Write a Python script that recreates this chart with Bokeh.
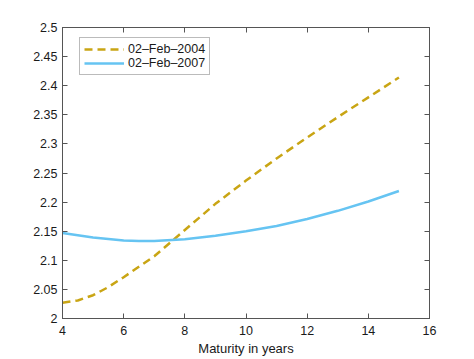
from bokeh.plotting import figure
from bokeh.models import Range1d, FixedTicker, LinearAxis, Legend, LegendItem
from bokeh.embed import file_html
from bokeh.resources import INLINE

# Data
maturity_2004 = [4, 4.5, 5, 5.5, 6, 7, 8, 9, 10, 11, 12, 13, 14, 15]
yield_2004 = [2.027, 2.031, 2.040, 2.054, 2.071, 2.107, 2.152, 2.197, 2.237, 2.275, 2.311, 2.346, 2.380, 2.414]
maturity_2007 = [4, 5, 6, 6.5, 7, 8, 9, 10, 11, 12, 13, 14, 15]
yield_2007 = [2.147, 2.139, 2.134, 2.133, 2.133, 2.136, 2.142, 2.150, 2.159, 2.171, 2.185, 2.201, 2.219]
series_names = ["02\u2013Feb\u20132004", "02\u2013Feb\u20132007"]
x_ticks = [4, 6, 8, 10, 12, 14, 16]
y_ticks = [2.0, 2.05, 2.1, 2.15, 2.2, 2.25, 2.3, 2.35, 2.4, 2.45, 2.5]
y_tick_labels = ["2", "2.05", "2.1", "2.15", "2.2", "2.25", "2.3", "2.35", "2.4", "2.45", "2.5"]
x_label = "Maturity in years"

FONT = "Liberation Sans"
AX = "#555555"

p = figure(frame_width=367, frame_height=291, output_backend="svg", toolbar_location=None,
           x_range=Range1d(4, 16), y_range=Range1d(2, 2.5),
           min_border_left=62, min_border_top=27, min_border_right=40, min_border_bottom=38,
           x_axis_label=x_label)
p.xgrid.visible = False
p.ygrid.visible = False
p.outline_line_color = AX
p.outline_line_width = 1
p.background_fill_color = "white"
p.border_fill_color = "white"

l1 = p.line(maturity_2004, yield_2004, line_color="#C9A514", line_width=2.5, line_dash="8 5")
l2 = p.line(maturity_2007, yield_2007, line_color="#66C4F2", line_width=2.5)

def style(ax, labels=True):
    ax.major_tick_in = 5
    ax.major_tick_out = 0
    ax.minor_tick_line_color = None
    ax.axis_line_color = AX
    ax.major_tick_line_color = AX
    ax.major_label_text_font = FONT
    ax.major_label_text_font_size = "12.5px"
    ax.major_label_text_color = "#1a1a1a" if labels else None
    ax.axis_label_text_font = FONT
    ax.axis_label_text_font_size = "13px"
    ax.axis_label_text_font_style = "normal"
    ax.axis_label_text_color = "#1a1a1a"

p.xaxis.ticker = FixedTicker(ticks=x_ticks)
p.yaxis.ticker = FixedTicker(ticks=y_ticks)
p.yaxis.major_label_overrides = {t: s for t, s in zip(y_ticks, y_tick_labels)}
style(p.xaxis[0])
style(p.yaxis[0])
p.xaxis.major_label_standoff = 7
p.xaxis.axis_label_standoff = 3
p.yaxis.major_label_standoff = 5

top = LinearAxis(ticker=FixedTicker(ticks=x_ticks))
style(top, labels=False)
p.add_layout(top, "above")
right = LinearAxis(ticker=FixedTicker(ticks=y_ticks))
style(right, labels=False)
p.add_layout(right, "right")

legend = Legend(items=[LegendItem(label=series_names[0], renderers=[l1]),
                       LegendItem(label=series_names[1], renderers=[l2])],
                location=(17, 243))
legend.label_text_font = FONT
legend.label_text_font_size = "12.5px"
legend.label_text_color = "#1a1a1a"
legend.border_line_color = "#777777"
legend.border_line_width = 1
legend.padding = 4
legend.spacing = 0
legend.margin = 0
legend.glyph_width = 40
legend.glyph_height = 14
legend.label_height = 14
legend.label_standoff = 4
p.add_layout(legend, "center")

open("out.html", "w").write(file_html(p, INLINE))
